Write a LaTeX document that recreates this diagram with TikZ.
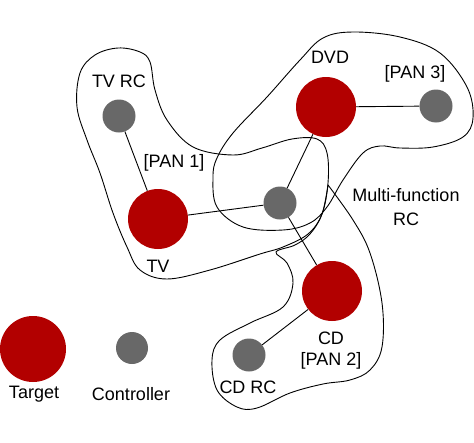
\documentclass[tikz,border=0pt]{standalone}
\usepackage{fontspec}
\setmainfont{Liberation Sans}
\usepackage{tikz}
\usepackage{xcolor}
\definecolor{tgtred}{RGB}{178,0,0}
\definecolor{ctrlgray}{RGB}{104,104,104}
\tikzset{
  target/.style={circle,fill=tgtred,minimum size=60pt,inner sep=0pt},
  ctrl/.style={circle,fill=ctrlgray,minimum size=33pt,inner sep=0pt},
  lbl/.style={inner sep=0pt,align=center,font=\fontsize{18}{21}\selectfont},
  pan/.style={line width=0.9pt,smooth cycle,tension=0.6},
  link/.style={line width=0.9pt}
}

\begin{document}
\begin{tikzpicture}[x=1pt,y=-1pt]
			\useasboundingbox (0,0) rectangle (474,442);
			% devices
			\node[ctrl] (tvrc) at (119,116) {};
			\node[target] (tv) at (158,219) {};
			\node[ctrl] (mfrc) at (280,203) {};
			\node[target] (dvd) at (326,107) {};
			\node[ctrl] (dvdrc) at (436,106) {};
			\node[target] (cd) at (332,291) {};
			\node[ctrl] (cdrc) at (249,355) {};
			% labels
			\node[lbl] (tvrclbl) at (119,81) {TV RC};
			\node[lbl] (pan1lbl) at (174,163) {[PAN 1]};
			\node[lbl] (tvlbl) at (158,266) {TV};
			\node[lbl] (dvdlbl) at (330,57) {DVD};
			\node[lbl] (pan3lbl) at (415,74) {[PAN 3]};
			\node[lbl] (mfrclbl) at (406,207) {Multi-function\\[3pt]RC};
			\node[lbl] (cdlbl) at (331,351) {CD\\{[PAN 2]}};
			\node[lbl] (cdrclbl) at (248,387) {CD RC};
			% links
			\draw[link] (tvrc) -- (tv);
			\draw[link] (tv) -- (mfrc);
			\draw[link] (mfrc) -- (dvd);
			\draw[link] (mfrc) -- (cd);
			\draw[link] (dvd) -- (dvdrc);
			\draw[link] (cd) -- (cdrc);
			% PAN 1
			\draw[line width=0.9pt] plot[pan] coordinates {(118,48) (140,52) (150,62) (155,90) (167,120) (193,147) (233,155) (262,148) (292,139) (317,139) (327,153) (328,183) (322,214) (308,234) (283,247) (260,254) (210,270) (167,279) (140,270) (127,247) (113,213) (100,173) (87,140) (77,107) (80,73) (95,55)};
			% PAN 3
			\draw[line width=0.9pt] plot[pan] coordinates {(213,177) (217,207) (243,227) (283,230) (310,223) (327,207) (343,180) (363,153) (380,146) (400,148) (433,147) (463,137) (473,118) (467,87) (440,53) (400,37) (353,32) (323,38) (300,60) (267,97) (233,133) (217,158)};
			% PAN 2
			\draw[line width=0.9pt] plot[smooth,tension=0.6] coordinates {(328,185) (353,220) (370,253) (382,303) (382,347) (370,370) (350,380) (323,384) (290,393) (257,408) (237,407) (217,390) (212,360) (220,340) (250,323) (283,307) (293,283) (287,263) (276,252) (295,245) (310,234) (322,214) (328,185)};
			% legend
			\node[target,minimum size=66pt] (legtgt) at (33,349) {};
			\node[ctrl,minimum size=32pt] (legctrl) at (132,348) {};
			\node[lbl] (legtgtlbl) at (34,394) {Target};
			\node[lbl] (legctrllbl) at (131,394) {Controller};
		\end{tikzpicture}
\end{document}
